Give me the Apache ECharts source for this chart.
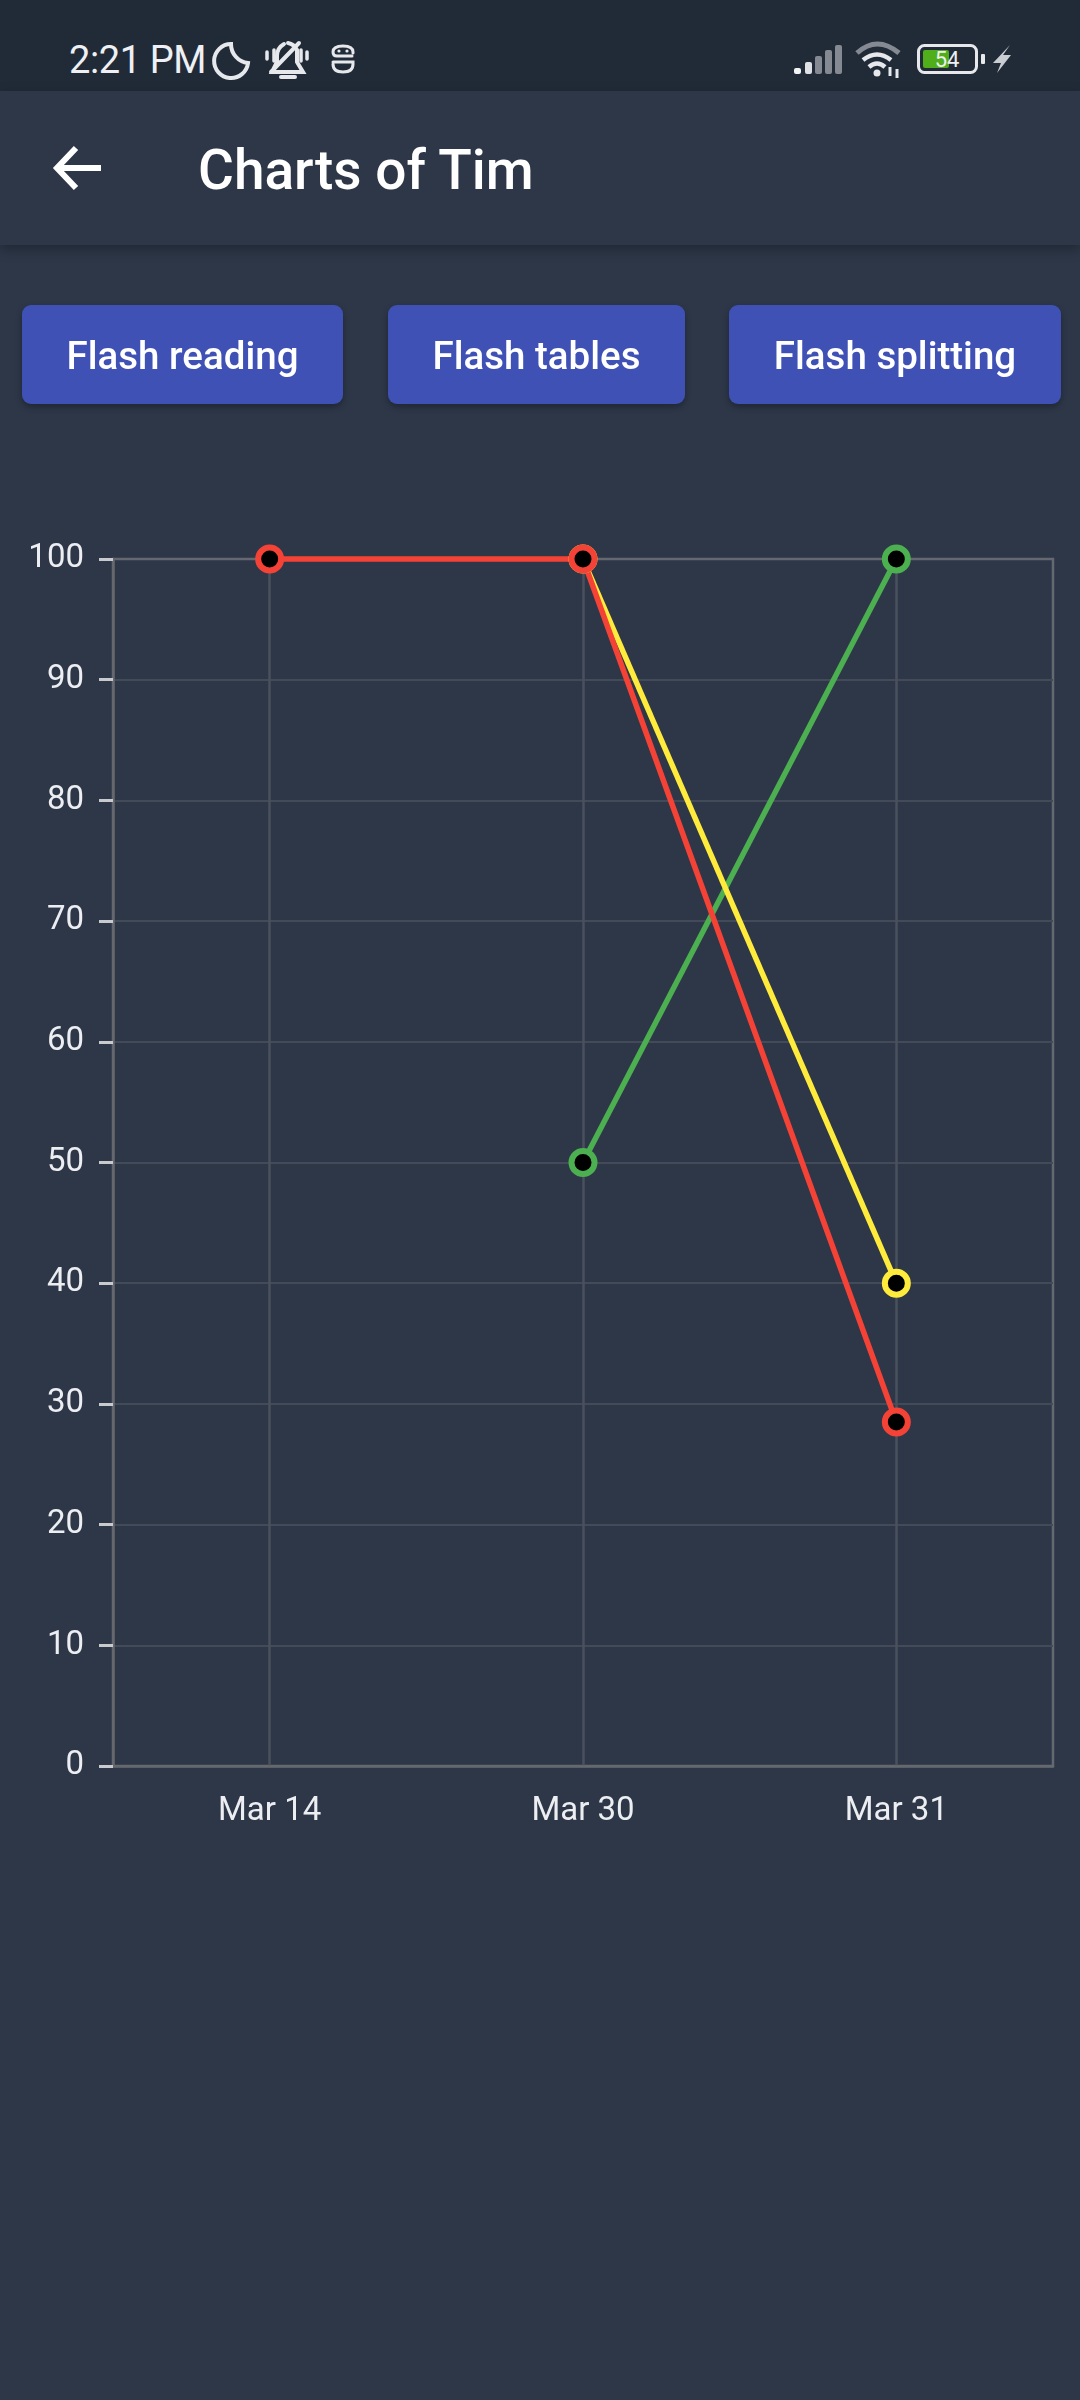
<!DOCTYPE html>
<html>
<head>
<meta charset="utf-8">
<title>Charts of Tim</title>
<style>
html, body { margin: 0; padding: 0; width: 1080px; height: 2400px; background: #2d3748; overflow: hidden; font-family: Roboto, sans-serif; color: #fff; }
.abs { position: absolute; }
#status { left: 0; top: 0; width: 1080px; height: 91px; background: #212b38; }
#time { left: 69px; top: 37px; font-size: 38px; line-height: 46px; color: #eef0f3; letter-spacing: -0.4px; white-space: nowrap; }
#bar { left: 0; top: 91px; width: 1080px; height: 154px; background: #2d3748; box-shadow: 0 4px 12px rgba(0,0,0,0.3); }
#title { left: 198px; top: 138px; font-size: 55px; line-height: 64px; font-weight: 500; white-space: nowrap; }
.btn { top: 305px; height: 99px; line-height: 101px; background: #3f51b5; border-radius: 9px; text-align: center; font-size: 38.5px; font-weight: 500; box-shadow: 0 3px 6px rgba(0,0,0,0.3); white-space: nowrap; }
#chart { left: 0; top: 0; width: 1080px; height: 2400px; }
</style>
</head>
<body>
<div id="chart" class="abs"></div>

<div id="status" class="abs"></div>
<div id="time" class="abs">2:21 PM</div>
<svg class="abs" style="left:0;top:0" width="1080" height="91" fill="none" stroke="#e6e8eb" stroke-width="4" stroke-linecap="round">
  <!-- moon -->
  <path d="M231 44 A17 17 0 1 0 248 63 A19 19 0 0 1 231 44 Z"/>
  <!-- muted bell -->
  <path d="M284 44 Q277 48 277 56 V62 L272 72 H303 L297 62 V50 Q294 44 288 43 M271 72 L299 43 M281 77 H295"/>
  <path d="M267 52 V59 M274 50 V61 M301 50 V61 M307 52 V59" stroke-width="3.5"/>
  <!-- app icon -->
  <path d="M352 56 H337 Q333 56 333 52 Q333 46 343 46 Q353 46 353 52 V53 M333 62 H353 V64 Q353 72 343 72 Q333 72 333 64" stroke-width="3"/>
  <circle cx="339" cy="51" r="1.6" fill="#e6e8eb" stroke="none"/>
  <circle cx="347" cy="51" r="1.6" fill="#e6e8eb" stroke="none"/>
  <!-- wifi -->
  <path d="M857 53 Q877 35 899 53" stroke="#858a92" stroke-width="5" stroke-linecap="butt"/>
  <path d="M863 60 Q877 49 891 60 M869 67 Q877 60 885 67" stroke-width="4.5" stroke-linecap="butt"/>
  <circle cx="877" cy="73" r="3.5" fill="#e6e8eb" stroke="none"/>
  <path d="M890 67 V76 M897 69 V78" stroke-width="3" stroke-linecap="butt"/>
  <!-- battery -->
  <rect x="918.5" y="45.5" width="58" height="27" rx="6" stroke-width="3"/>
  <rect x="923" y="50" width="26" height="18" rx="2" fill="#4fae1a" stroke="none"/>
  <rect x="981" y="54" width="4" height="10" rx="1" fill="#e6e8eb" stroke="none"/>
  <path d="M1010 45 L993 63 H1001 L997 73 L1011 55 H1003 Z" fill="#c9ccd1" stroke="none"/>
  <!-- signal -->
  <g stroke="none">
    <rect x="794" y="68" width="7" height="6" rx="2" fill="#f2f3f5"/>
    <rect x="805" y="62" width="7" height="12" rx="2" fill="#dfe1e4"/>
    <rect x="815" y="56" width="7" height="18" rx="2" fill="#858a92"/>
    <rect x="825" y="50" width="7" height="24" rx="2" fill="#858a92"/>
    <rect x="835" y="45" width="7" height="29" rx="2" fill="#858a92"/>
  </g>
  <text x="947" y="67" text-anchor="middle" font-family="Roboto" font-size="22" fill="#eef0f3" stroke="none">54</text>
</svg>

<div id="bar" class="abs"></div>
<svg class="abs" style="left:50px;top:140px" width="56" height="56" fill="none" stroke="#fff" stroke-width="6">
  <path d="M51 28 H8 M26 8 L7 28 L26 48"/>
</svg>
<div id="title" class="abs">Charts of Tim</div>

<div class="abs btn" style="left:22px;width:321px">Flash reading</div>
<div class="abs btn" style="left:388px;width:297px">Flash tables</div>
<div class="abs btn" style="left:729px;width:332px">Flash splitting</div>

<script src="https://cdn.jsdelivr.net/npm/echarts@6/dist/echarts.min.js"></script>
<script>
var categories = ['Mar 14', 'Mar 30', 'Mar 31'];
var greenValues = [null, 50, 100];
var yellowValues = [null, 100, 40];
var redValues = [100, 100, 28.5];

var makeSeries = function (name, values, color) {
    return {
        name: name,
        type: 'line',
        data: values,
        symbol: 'circle',
        symbolSize: 23,
        showAllSymbol: true,
        clip: false,
        lineStyle: {color: color, width: 5.5},
        itemStyle: {color: '#000', borderColor: color, borderWidth: 6, opacity: 1}
    };
};

var myChart = echarts.init(document.getElementById('chart'), null, {renderer: 'canvas'});
var option = {
    animation: false,
    backgroundColor: 'transparent',
    textStyle: {fontFamily: 'Roboto'},
    grid: {
        left: 113,
        top: 559,
        width: 940,
        height: 1207,
        show: true,
        borderColor: '#65686e',
        borderWidth: 2.5
    },
    xAxis: {
        type: 'category',
        data: categories,
        boundaryGap: true,
        axisLine: {lineStyle: {color: '#65686e', width: 2.5}},
        axisTick: {alignWithLabel: true, length: 16, lineStyle: {color: '#8a8d92', width: 2}},
        axisLabel: {color: '#eceef2', fontSize: 33, margin: 29, interval: 0},
        splitLine: {show: true, interval: 0, alignWithLabel: true, lineStyle: {color: '#4a505c', width: 2.5}}
    },
    yAxis: {
        type: 'value',
        min: 0,
        max: 100,
        interval: 10,
        axisLine: {show: true, lineStyle: {color: '#65686e', width: 2.5}},
        axisTick: {show: true, length: 14, lineStyle: {color: '#c8cacd', width: 3}},
        axisLabel: {color: '#eceef2', fontSize: 33, margin: 29, padding: [3, 0, 0, 0]},
        splitLine: {show: true, showMinLine: false, showMaxLine: false, lineStyle: {color: '#444b58', width: 2}}
    },
    series: [
        makeSeries('Flash splitting', greenValues, '#4caf50'),
        makeSeries('Flash tables', yellowValues, '#ffeb3b'),
        makeSeries('Flash reading', redValues, '#f44336')
    ]
};
myChart.setOption(option);
</script>
</body>
</html>
